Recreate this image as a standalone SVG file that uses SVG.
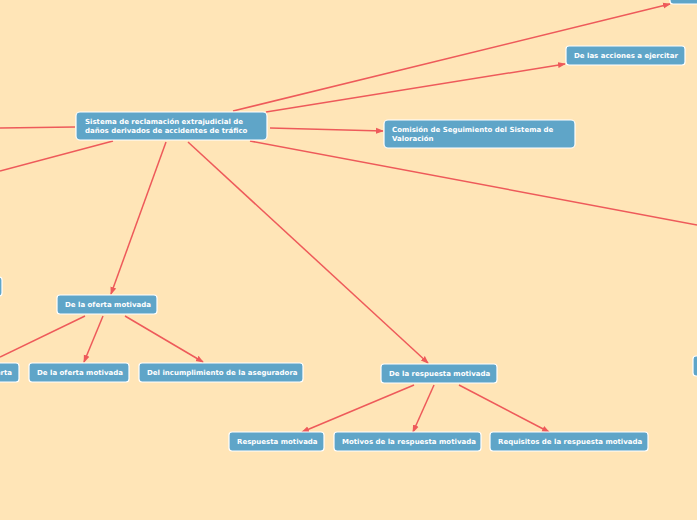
<svg xmlns="http://www.w3.org/2000/svg" width="697" height="520" viewBox="0 0 697 520">
<style>
.n{fill:#5FA5C8;stroke:#fff;stroke-width:1.2}
.t{font-family:"DejaVu Sans",sans-serif;font-size:7px;font-weight:bold;fill:#fff}
.c{stroke:#EE5A5A;stroke-width:1.5;fill:none}
</style>
<defs><marker id="a" markerWidth="8" markerHeight="8" refX="7" refY="4" orient="auto" markerUnits="userSpaceOnUse"><path d="M0,1 L8,4 L0,7 Z" fill="#EE5A5A"/></marker></defs>
<rect width="697" height="520" fill="#FFE5B7"/>
<g id="connectors">
<path class="c" d="M233,111 L670,4" marker-end="url(#a)"/>
<path class="c" d="M266,112 L565,64" marker-end="url(#a)"/>
<path class="c" d="M270,128 L383,131" marker-end="url(#a)"/>
<path class="c" d="M250,141 L697,225"/>
<path class="c" d="M75,127 L0,128"/>
<path class="c" d="M113,141 L0,171"/>
<path class="c" d="M166,142 L111,294" marker-end="url(#a)"/>
<path class="c" d="M188,142 L428,363" marker-end="url(#a)"/>
<path class="c" d="M85,316 L0,357"/>
<path class="c" d="M103,316 L84,362" marker-end="url(#a)"/>
<path class="c" d="M125,316 L203,362" marker-end="url(#a)"/>
<path class="c" d="M414,385 L302,432" marker-end="url(#a)"/>
<path class="c" d="M434,385 L413,432" marker-end="url(#a)"/>
<path class="c" d="M459,385 L549,432" marker-end="url(#a)"/>
</g>
<g id="n-root"><rect class="n" x="76" y="112" width="191" height="28" rx="4"/><text class="t" x="85" y="124">Sistema de reclamación extrajudicial de</text><text class="t" x="85" y="133">daños derivados de accidentes de tráfico</text></g>
<g id="n-top"><rect class="n" x="670" y="-10" width="40" height="14" rx="3"/></g>
<g id="n-acciones"><rect class="n" x="566" y="46" width="119" height="19" rx="3"/><text class="t" x="574" y="58">De las acciones a ejercitar</text></g>
<g id="n-comision"><rect class="n" x="384" y="120" width="191" height="28" rx="4"/><text class="t" x="392" y="132">Comisión de Seguimiento del Sistema de</text><text class="t" x="392" y="141">Valoración</text></g>
<g id="n-left"><rect class="n" x="-10" y="277" width="12" height="19" rx="3"/></g>
<g id="n-right"><rect class="n" x="693" y="356" width="12" height="20" rx="3"/></g>
<g id="n-oferta"><rect class="n" x="57" y="295" width="100" height="19" rx="3"/><text class="t" x="65" y="307">De la oferta motivada</text></g>
<g id="n-oferta-l"><rect class="n" x="-30" y="363" width="49" height="19" rx="3"/><text class="t" x="12" y="375" text-anchor="end">oferta</text></g>
<g id="n-oferta2"><rect class="n" x="29" y="363" width="100" height="19" rx="3"/><text class="t" x="37" y="375">De la oferta motivada</text></g>
<g id="n-incump"><rect class="n" x="139" y="363" width="164" height="19" rx="3"/><text class="t" x="147" y="375">Del incumplimiento de la aseguradora</text></g>
<g id="n-respuesta"><rect class="n" x="381" y="364" width="116" height="19" rx="3"/><text class="t" x="389" y="376">De la respuesta motivada</text></g>
<g id="n-r1"><rect class="n" x="229" y="432" width="95" height="19" rx="3"/><text class="t" x="237" y="444">Respuesta motivada</text></g>
<g id="n-r2"><rect class="n" x="334" y="432" width="147" height="19" rx="3"/><text class="t" x="342" y="444">Motivos de la respuesta motivada</text></g>
<g id="n-r3"><rect class="n" x="490" y="432" width="158" height="19" rx="3"/><text class="t" x="498" y="444">Requisitos de la respuesta motivada</text></g>
</svg>
